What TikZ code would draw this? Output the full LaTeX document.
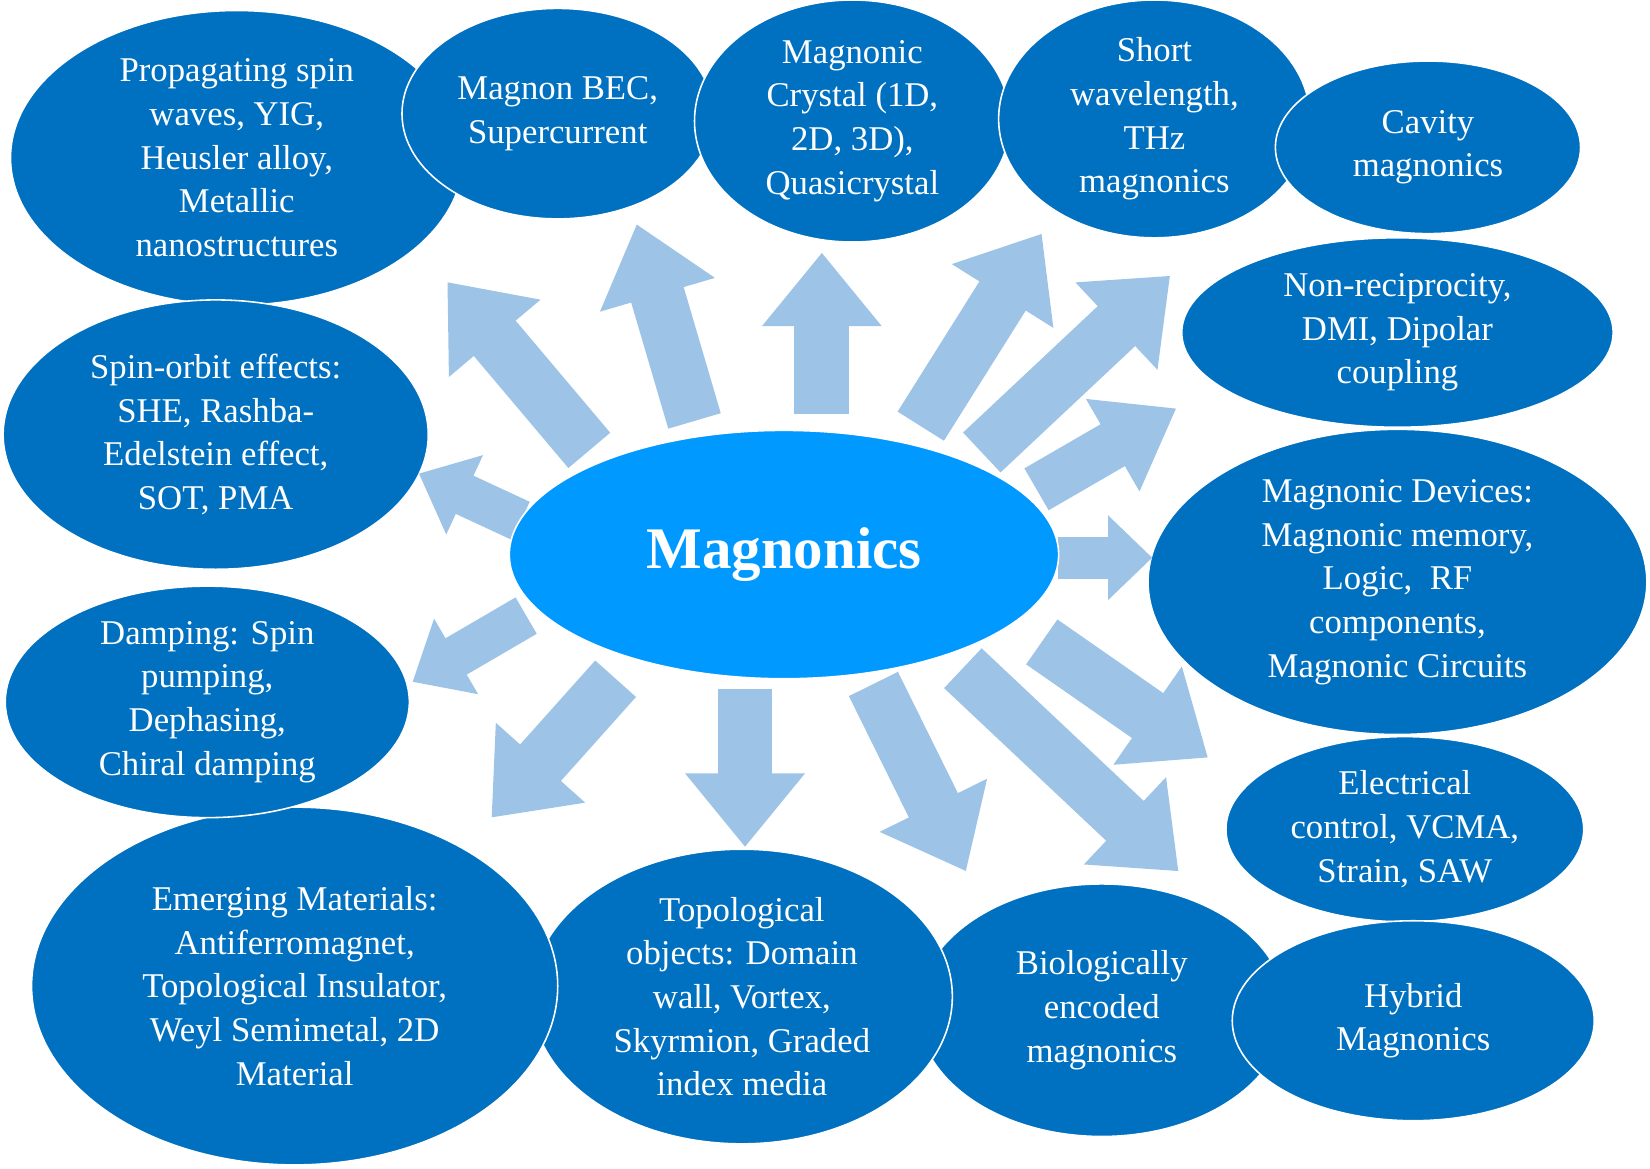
\documentclass[tikz,border=0pt]{standalone}
\usepackage{fontspec}
\setmainfont{Liberation Serif}
\usetikzlibrary{shapes.geometric,arrows.meta}
\definecolor{dk}{HTML}{0070C0}
\definecolor{lt}{HTML}{9DC3E6}
\definecolor{cen}{HTML}{0099FF}
\tikzset{
 bub/.style={ellipse,fill=dk,draw=white,line width=1.5pt,text=white,align=center,inner sep=0pt,
   font=\fontsize{33}{41.5}\selectfont},
 barr/.style={lt,line width=#1,-{Triangle[length=70pt,width=2.1*#1]}},
 barr/.default=52pt,
}
\newcommand{\bb}[5]{\node[bub,minimum width=#3pt,minimum height=#4pt] (#1) at (#2) {#5};}
\begin{document}
\begin{tikzpicture}[x=1pt,y=-1pt]
\useasboundingbox (0,0) rectangle (1568,1110);
\bb{prop}{225,150}{430}{280}{Propagating spin\\waves, YIG,\\Heusler alloy,\\Metallic\\nanostructures}
\bb{bec}{530,108}{296}{200}{Magnon BEC,\\Supercurrent}
\bb{cry}{810,115}{300}{230}{Magnonic\\Crystal (1D,\\2D, 3D),\\Quasicrystal}
\bb{shw}{1097,113}{296}{226}{Short\\wavelength,\\THz\\magnonics}
\bb{cav}{1357,140}{290}{164}{Cavity\\magnonics}
\bb{nonr}{1328,316}{410}{180}{Non-reciprocity,\\DMI, Dipolar\\coupling}
\bb{dev}{1328,553}{474}{290}{Magnonic Devices:\\Magnonic memory,\\Logic,\ \ RF\\components,\\Magnonic Circuits}
\bb{ele}{1335,788}{340}{176}{Electrical\\control, VCMA,\\Strain, SAW}
\bb{bio}{1047,960}{350}{240}{Biologically\\encoded\\magnonics}
\bb{hyb}{1343,970}{344}{190}{Hybrid\\Magnonics}
\bb{top}{705,947}{400}{280}{Topological\\objects: Domain\\wall, Vortex,\\Skyrmion, Graded\\index media}
\bb{emg}{280,937}{500}{340}{Emerging Materials:\\Antiferromagnet,\\Topological Insulator,\\Weyl Semimetal, 2D\\Material}
\bb{dam}{197,667}{384}{220}{Damping: Spin\\pumping,\\Dephasing,\\Chiral damping}
\bb{soe}{205,413}{404}{256}{Spin-orbit effects:\\SHE, Rashba-\\Edelstein effect,\\SOT, PMA}
% arrows
\coordinate (a1) at (560,428); \coordinate (b1) at (425,268);
\coordinate (a2) at (660,400); \coordinate (b2) at (605,213);
\coordinate (a3) at (781,393); \coordinate (b3) at (781,240);
\coordinate (a4) at (875,405); \coordinate (b4) at (990,222);
\coordinate (a5) at (933,430); \coordinate (b5) at (1112,262);
\coordinate (a6) at (985,465); \coordinate (b6) at (1118,388);
\coordinate (a7) at (1005,530); \coordinate (b7) at (1095,530);
\coordinate (a8) at (990,610); \coordinate (b8) at (1148,720);
\coordinate (a9) at (915,635); \coordinate (b9) at (1120,828);
\coordinate (a10) at (830,650); \coordinate (b10) at (918,828);
\coordinate (a11) at (708,655); \coordinate (b11) at (708,805);
\coordinate (a12) at (585,645); \coordinate (b12) at (467,777);
\coordinate (a13) at (500,585); \coordinate (b13) at (392,648);
\coordinate (a14) at (495,495); \coordinate (b14) at (398,450);
\draw[barr] (a1) -- (b1);
\draw[barr] (a2) -- (b2);
\draw[barr] (a3) -- (b3);
\draw[barr] (a4) -- (b4);
\draw[barr] (a5) -- (b5);
\draw[barr=46pt] (a6) -- (b6);
\draw[barr=40pt,-{Triangle[length=42pt,width=78pt]}] (a7) -- (b7);
\draw[barr] (a8) -- (b8);
\draw[barr] (a9) -- (b9);
\draw[barr] (a10) -- (b10);
\draw[barr] (a11) -- (b11);
\draw[barr] (a12) -- (b12);
\draw[barr=40pt,-{Triangle[length=48pt,width=80pt]}] (a13) -- (b13);
\draw[barr=40pt,-{Triangle[length=48pt,width=80pt]}] (a14) -- (b14);
\node[ellipse,fill=cen,draw=white,line width=1.5pt,minimum width=522pt,minimum height=236pt,text=white,
  font=\fontsize{56}{60}\selectfont\bfseries] (mag) at (745,527) {Magnonics};
\end{tikzpicture}
\end{document}
